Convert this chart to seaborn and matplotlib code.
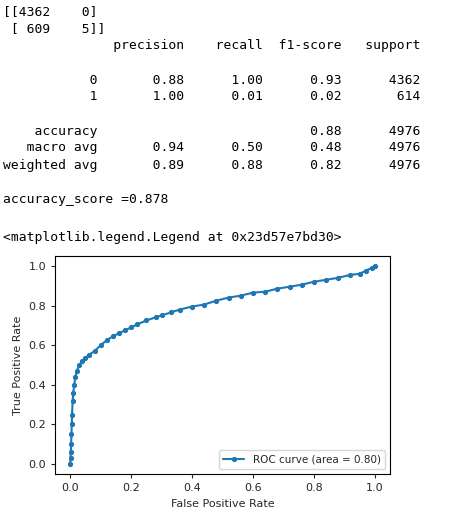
import matplotlib
matplotlib.use("Agg")
import matplotlib.pyplot as plt
import seaborn as sns
import pandas as pd

fpr = [0, 0.001, 0.002, 0.003, 0.004, 0.005, 0.006, 0.008, 0.01, 0.013, 0.017, 0.022, 0.03, 0.04,
       0.05, 0.06, 0.08, 0.1, 0.12, 0.14, 0.16, 0.18, 0.2, 0.22, 0.25, 0.28, 0.3, 0.33, 0.36,
       0.4, 0.44, 0.48, 0.52, 0.56, 0.6, 0.64, 0.68, 0.72, 0.76, 0.8, 0.84, 0.88, 0.92, 0.95,
       0.97, 0.99, 1.0]
tpr = [0, 0.03, 0.06, 0.1, 0.15, 0.2, 0.25, 0.32, 0.36, 0.4, 0.44, 0.47, 0.5, 0.52,
       0.535, 0.55, 0.57, 0.6, 0.625, 0.645, 0.66, 0.675, 0.69, 0.705, 0.725, 0.74, 0.75, 0.765, 0.78,
       0.795, 0.805, 0.825, 0.84, 0.85, 0.865, 0.87, 0.885, 0.895, 0.905, 0.92, 0.93, 0.94, 0.955, 0.96,
       0.975, 0.99, 1.0]
roc_label = "ROC curve (area = 0.80)"

report_lines = [
    "[[4362    0]",
    " [ 609    5]]",
    "              precision    recall  f1-score   support",
    "",
    "           0       0.88      1.00      0.93      4362",
    "           1       1.00      0.01      0.02       614",
    "",
    "    accuracy                           0.88      4976",
    "   macro avg       0.94      0.50      0.48      4976",
    "weighted avg       0.89      0.88      0.82      4976",
    "",
    "accuracy_score =0.878",
    "",
    "<matplotlib.legend.Legend at 0x23d57e7bd30>",
]
line_y = [12, 29, 46, 63, 80, 97, 114, 131, 148, 165, 182, 200, 219, 238]

sns.set_style("white")
plt.rcParams["font.family"] = ["DejaVu Sans"]
fig = plt.figure(figsize=(4.68, 5.11), dpi=100)
for t, y in zip(report_lines, line_y):
    fig.text(3 / 468, 1 - y / 511, t, family="DejaVu Sans Mono", fontsize=9.4,
             va="center", ha="left", color="black")

ax = fig.add_axes([55 / 468, 37 / 511, 335 / 468, 218 / 511])
df = pd.DataFrame({"fpr": fpr, "tpr": tpr})
sns.lineplot(data=df, x="fpr", y="tpr", marker=".", markersize=6, sort=False, estimator=None,
             color="#1f77b4", markeredgecolor="#1f77b4", label=roc_label, ax=ax, linewidth=1.5)
ax.set_xlabel("False Positive Rate", fontsize=8)
ax.set_ylabel("True Positive Rate", fontsize=8)
ax.set_xticks([0, 0.2, 0.4, 0.6, 0.8, 1.0])
ax.set_yticks([0, 0.2, 0.4, 0.6, 0.8, 1.0])
ax.tick_params(labelsize=8, length=3, direction="out", left=True, bottom=True)
for s in ax.spines.values():
    s.set_color("black")
    s.set_linewidth(0.8)
ax.legend(loc="lower right", fontsize=7.5)
fig.savefig("out.png", dpi=100, facecolor="white")
